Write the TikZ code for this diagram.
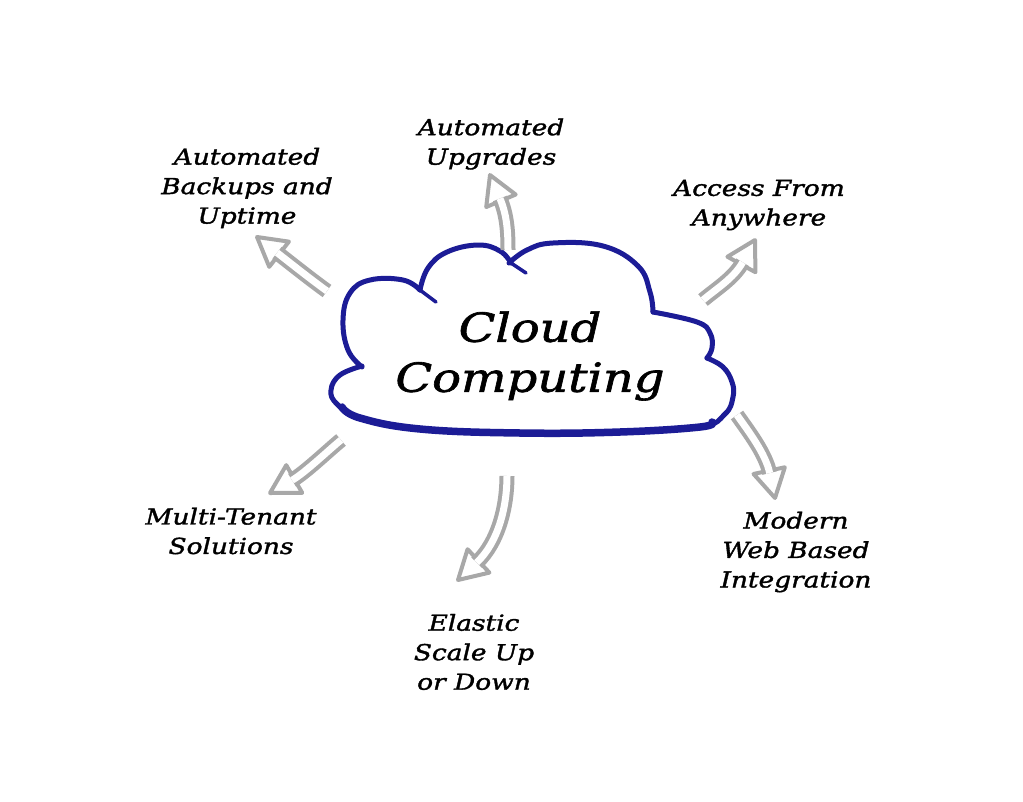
\documentclass[tikz,border=0pt]{standalone}
\usepackage{fontspec}
\newfontfamily\handfont[FakeStretch=1.2,FakeBold=1.6]{DejaVu Serif}
\usetikzlibrary{calc}
\definecolor{cloudblue}{RGB}{28,28,150}
\definecolor{arrowgray}{RGB}{168,168,168}
\tikzset{
  labeltext/.style={font=\handfont\itshape\fontsize{22}{29.5}\selectfont, align=center, text=black, inner sep=0pt},
  cloudtext/.style={font=\handfont\itshape\fontsize{40}{50}\selectfont, align=center, text=black, inner sep=0pt},
  cloudline/.style={draw=cloudblue, line width=5pt, line cap=round, line join=round},
  cloudthin/.style={draw=cloudblue, line width=3.5pt, line cap=round},
  arrowhead/.style={draw=arrowgray, fill=white, line width=4pt, line join=round},
  arrowshaft/.style={draw=arrowgray, line width=4pt, double=white, double distance=7pt, line cap=butt},
}
\newcommand{\harrow}[5]{%
  \draw[arrowhead] (#2) -- ($(#2)+(#4:28)+(#4+90:16)$) -- ($(#2)+(#4:28)+(#4-90:16)$) -- cycle;
  \draw[arrowshaft] (#1) .. controls ($(#1)+(#3:#5)$) and ($(#2)+(#4:25.5+#5)$) .. ($(#2)+(#4:25.5)$);
}
\begin{document}
\begin{tikzpicture}[x=1pt,y=-1pt]
\fill[white] (0,0) rectangle (1023,801);
\useasboundingbox (0,0) rectangle (1023,801);

% cloud outline
\draw[cloudline] plot[smooth,tension=0.7] coordinates {(362,367) (348,350) (343,320) (350,293) (370,280) (403,280) (420,290)};
\draw[cloudthin] (420,290) -- (436,302);
\draw[cloudline] plot[smooth,tension=0.7] coordinates {(420,290) (428,268) (447,252) (478,245) (500,251) (511,263)};
\draw[cloudthin] (511,263) -- (526,273);
\draw[cloudline] plot[smooth,tension=0.7] coordinates {(509,263) (527,250) (553,243) (603,246) (638,266) (650,292) (653,312)};
\draw[cloudline] plot[smooth,tension=0.7] coordinates {(653,312) (697,322) (710,333) (712,348) (707,358)};
\draw[cloudline] plot[smooth,tension=0.7] coordinates {(707,358) (723,367) (732,382) (733,397) (725,414) (700,427) (620,432) (520,433) (420,429) (360,418) (337,404) (331,390) (340,375) (362,366)};
\draw[cloudline, line width=7.5pt] plot[smooth,tension=0.7] coordinates {(712,422) (700,427) (620,432) (520,433) (420,429) (360,418) (342,407)};

\node[cloudtext] (cloud) at (530,356) {Cloud\\Computing};

% labels
\node[labeltext] (bk) at (247,188) {Automated\\Backups and\\Uptime};
\node[labeltext] (up) at (491,144) {Automated\\Upgrades};
\node[labeltext] (ac) at (759,205) {Access From\\Anywhere};
\node[labeltext] (mt) at (231,531) {Multi-Tenant\\Solutions};
\node[labeltext] (el) at (474,652) {Elastic\\Scale Up\\or Down};
\node[labeltext] (mo) at (796,552) {Modern\\Web Based\\Integration};

% arrow end points
\coordinate (bkT) at (327,291); \coordinate (bkP) at (257,237);
\coordinate (upT) at (508,250); \coordinate (upP) at (490,175);
\coordinate (acT) at (703,300); \coordinate (acP) at (755,240);
\coordinate (moT) at (737,415); \coordinate (moP) at (775,498);
\coordinate (mtT) at (341,440); \coordinate (mtP) at (270,493);
\coordinate (elT) at (507,476); \coordinate (elP) at (458,580);

\harrow{bkT}{bkP}{215}{38}{15}
\harrow{upT}{upP}{270}{67}{18}
\harrow{acT}{acP}{320}{119}{18}
\harrow{moT}{moP}{55}{258}{20}
\harrow{mtT}{mtP}{141}{330}{15}
\harrow{elT}{elP}{90}{317}{30}
\end{tikzpicture}
\end{document}
